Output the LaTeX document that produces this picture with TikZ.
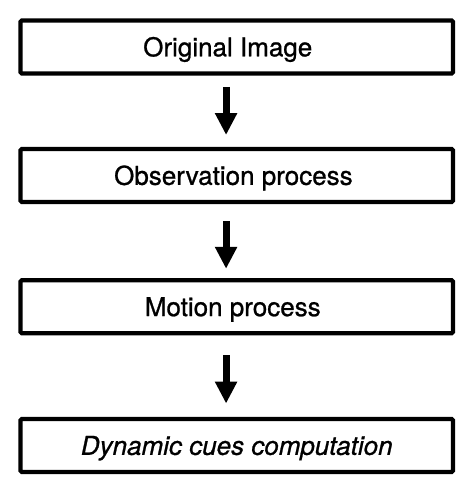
\documentclass[tikz,border=0pt]{standalone}
\usepackage{fontspec}
\setmainfont{TeX Gyre Heros}[FakeBold=0.9]
\usetikzlibrary{arrows.meta, positioning}

\begin{document}
\begin{tikzpicture}[
    x=0.75pt, y=-0.75pt,
    % Defining style for the boxes of the flow
    stage/.style={
        rectangle,
        draw=black,
        fill=white,
        line width=3.2pt,
        rounded corners=1pt,
        minimum width=324.4pt,
        minimum height=39.75pt,
        inner sep=0pt,
        text height=14pt,
        text depth=0pt,
        font=\fontsize{19.5}{22}\selectfont
    },
    % Defining style for the arrows between boxes
    flow arrow/.style={
        draw=black,
        line width=5.25pt,
        -{Triangle[width=15.75pt, length=16.5pt]}
    }
]

    \useasboundingbox (0,0) rectangle (474,494);

    % Place the four stages one below the other
    \node[stage] (orig) at (236.75,47) {\hspace*{-13.5pt}Original Image};
    \node[stage] (obs)  at (236.75,175.5) {\hspace*{-5pt}Observation process};
    \node[stage] (mot)  at (236.75,306.75) {\hspace*{-6pt}Motion process};
    \node[stage] (dyn)  at (236.75,445.5) {\itshape Dynamic cues computation};

    % Arrows between consecutive stages
    \draw[flow arrow, shorten <=8.5pt, shorten >=8.9pt]
        ([xshift=-8pt]orig.south) -- ([xshift=-8pt]obs.north);
    \draw[flow arrow, shorten <=12.7pt, shorten >=7pt]
        ([xshift=-8pt]obs.south) -- ([xshift=-8pt]mot.north);
    \draw[flow arrow, shorten <=14.9pt, shorten >=10pt]
        ([xshift=-8pt]mot.south) -- ([xshift=-8pt]dyn.north);

\end{tikzpicture}
\end{document}
